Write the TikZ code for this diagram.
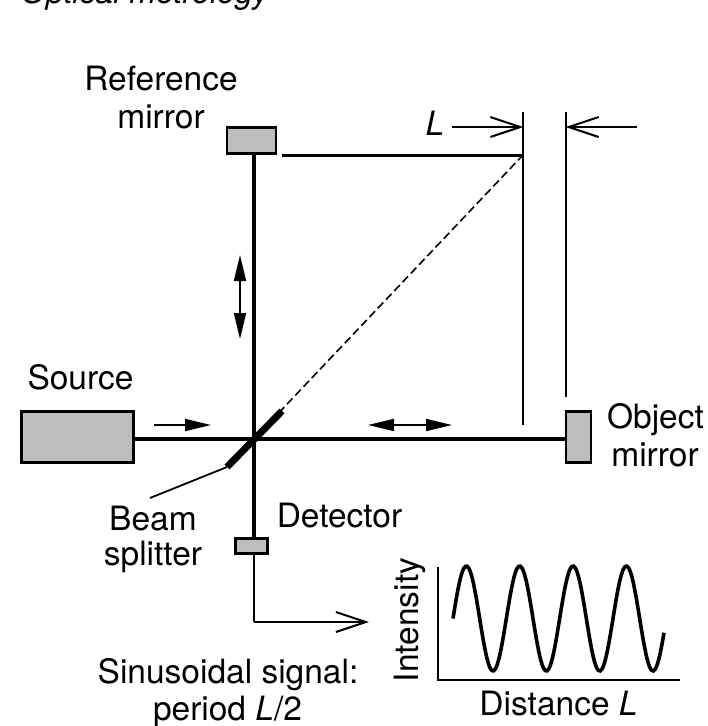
\documentclass[tikz,border=0pt]{standalone}
\usepackage{fontspec}
\setmainfont{TeX Gyre Heros}
\usetikzlibrary{calc}
\usetikzlibrary{arrows.meta}
\definecolor{mirrorgray}{HTML}{BDBDBD}
\tikzset{
  box/.style={draw=black, fill=mirrorgray, line width=2.2pt, inner sep=0pt, outer sep=0pt},
  txt/.style={anchor=base, inner sep=0pt, font=\fontsize{33.5}{38}\selectfont},
  beam/.style={line width=4pt},
  thin beam/.style={line width=3pt},
  guide/.style={line width=1.8pt},
  solid tip/.style={line width=1.8pt, -{Triangle[length=26pt,width=12pt]}},
  both tip/.style={line width=1.8pt, {Triangle[length=26pt,width=12pt]}-{Triangle[length=26pt,width=12pt]}},
  open tip/.style={line width=1.8pt, -{Straight Barb[length=30pt,width=20pt,line width=2pt]}},
}
\begin{document}
\begin{tikzpicture}[x=1pt,y=-1pt]
\useasboundingbox (0,0) rectangle (708,726);

\begin{scope}
\clip (0,0) rectangle (708,726);
\node[txt, anchor=base west, font=\fontsize{32}{38}\selectfont\itshape] (title) at (21,3) {Optical metrology};
\end{scope}

\coordinate (S) at (254,439);
\coordinate (ref_in) at (254,154);
\coordinate (ref_top) at (282,155);
\coordinate (P) at (523,155);
\coordinate (src_out) at (134,439);
\coordinate (obj_in) at (566,439);
\coordinate (det_in) at (254,538);
\coordinate (det_out) at (254,554);
\coordinate (corner) at (254,622);
\coordinate (out) at (369,622);
\coordinate (split_a) at (227,467);
\coordinate (split_b) at (282,411);
\coordinate (lead) at (150,498);

\node[box, minimum width=49pt, minimum height=26pt] (refmirror) at (251.5,140.5) {};
\node[box, minimum width=112pt, minimum height=51pt] (source) at (77.5,437) {};
\node[box, minimum width=25pt, minimum height=51pt] (objmirror) at (578.5,437) {};
\node[box, minimum width=32pt, minimum height=15pt] (detector) at (251.5,546) {};

\draw[beam] (ref_in)--(det_in);
\draw[beam] (src_out)--(obj_in);
\draw[thin beam] (ref_top)--(P);
\draw[line width=1.6pt, dash pattern=on 8pt off 4pt] (S)--(P);
\draw[line width=7pt] (split_a)--(split_b);
\draw[guide] (lead)--(split_a);

\draw[guide] (523,112)--(523,425);
\draw[guide] (566,112)--(566,397);
\draw[open tip] (452,127)--(523.5,127);
\draw[open tip] (637,127)--(565.5,127);

\draw[solid tip] (154,425)--(211,425);
\draw[both tip] (368,425)--(452,425);
\draw[both tip] (240,255)--(240,339);

\draw[line width=1.8pt] (det_out)--(corner);
\draw[open tip] (corner)--(out);

% plot
\draw[guide] (438,567)--(438,680)--(680,680);
\draw[line width=3.6pt, smooth, samples=120, domain=453:664]
  plot (\x,{618.5-52.5*sin((\x-453)*6.75)});

\node[txt] (t_ref) at (161,90) {Reference};
\node[txt] (t_refm) at (161,128) {mirror};
\node[txt] (t_src) at (80.5,389) {Source};
\node[txt] (t_beam) at (153,530) {Beam};
\node[txt] (t_split) at (153,565) {splitter};
\node[txt] (t_det) at (339.5,527) {Detector};
\node[txt] (t_obj) at (655.5,428) {Object};
\node[txt] (t_objm) at (655,466) {mirror};
\node[txt] (t_L) at (435,135) {\itshape L};
\node[txt, rotate=90] (t_int) at (418,620) {Intensity};
\node[txt] (t_dist) at (558.5,715) {Distance \itshape L};
\node[txt] (t_sin) at (228,683) {Sinusoidal signal:};
\node[txt] (t_per) at (227.5,720) {period \textit{L}/2};
\end{tikzpicture}
\end{document}
